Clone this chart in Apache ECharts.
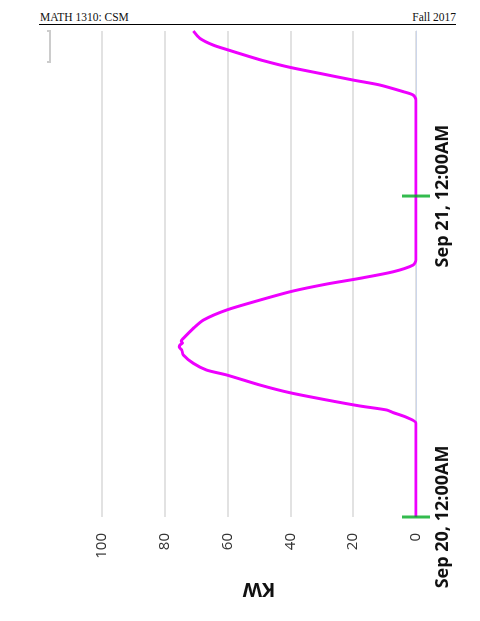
<!DOCTYPE html>
<html>
<head>
<meta charset="utf-8">
<script src="https://cdn.jsdelivr.net/npm/echarts@6/dist/echarts.min.js"></script>
<style>
    body { margin: 0; background: #fff; overflow: hidden; }
    .page-head {
        position: absolute; left: 39px; top: 10px; width: 417px; height: 14px;
        border-bottom: 1px solid #000;
        font-family: "Liberation Serif", "DejaVu Serif", serif; font-size: 11.5px; color: #111;
    }
    .page-head .l { position: absolute; left: 1px; top: 1px; }
    .page-head .r { position: absolute; right: 0; top: 1px; }
    #chart {
        position: absolute; left: 0; top: 621px;
        width: 621px; height: 480px;
        transform-origin: 0 0; transform: rotate(-90deg);
    }
</style>
</head>
<body>
<div class="page-head"><span class="l">MATH 1310: CSM</span><span class="r">Fall 2017</span></div>
<div id="chart"></div>
<script>
    // hours since Sep 20, 12:00AM
    var hours = [0, 7.0, 7.45, 7.8, 8.0, 8.3, 8.75, 9.29, 9.87, 10.62, 10.99, 11.49, 12.11, 12.49,
        12.71, 12.86, 13.0, 13.16, 13.36, 14.11, 14.73, 15.48, 16.22, 16.9, 17.42, 17.85, 18.34,
        18.84, 19.21, 24, 31.18, 31.55, 31.8, 32.3, 32.67, 33.17, 33.62, 34.12, 34.49, 34.92,
        35.29, 35.79, 36.34];
    var kw = [0, 0, 3.0, 7.2, 9.3, 17.8, 28.4, 40.1, 49.7, 60.3, 66.7, 70.9, 74.1, 74.6,
        75.4, 75.2, 74.4, 74.8, 74.1, 70.9, 67.7, 60.3, 49.7, 39.1, 28.4, 17.8, 7.2,
        0.9, 0, 0, 0, 0.9, 4.0, 11.5, 20.0, 30.6, 40.1, 48.6, 53.9, 59.8,
        64.6, 68.8, 70.9];
    var dayTicks = [0, 24];
    var dayLabels = ['Sep 20, 12:00AM', 'Sep 21, 12:00AM'];
    var kwTicks = [0, 20, 40, 60, 80, 100];

    var chart = echarts.init(document.getElementById('chart'), null, {renderer: 'canvas'});

    var lineData = [];
    for (var i = 0; i < hours.length; i++) {
        lineData.push([hours[i], kw[i]]);
    }
    var markData = [];
    for (var j = 0; j < dayTicks.length; j++) {
        markData.push([dayTicks[j], 0]);
    }

    var option = {
        animation: false,
        textStyle: { fontFamily: 'Open Sans' },
        grid: { left: 104, right: 31, top: 102, bottom: 64 },
        xAxis: {
            type: 'value',
            min: 0,
            max: 36.34,
            interval: 24,
            axisLine: { show: true, lineStyle: { color: '#ccd6eb', width: 1 } },
            axisTick: { show: false },
            splitLine: { show: false },
            axisLabel: {
                showMaxLabel: false,
                margin: 18,
                fontSize: 18,
                fontWeight: 'bold',
                color: '#111',
                formatter: function (v) {
                    var k = dayTicks.indexOf(v);
                    return k >= 0 ? dayLabels[k] : '';
                }
            }
        },
        yAxis: {
            type: 'value',
            min: kwTicks[0],
            max: kwTicks[kwTicks.length - 1],
            interval: 20,
            name: 'KW',
            nameLocation: 'middle',
            nameGap: 62,
            nameTextStyle: { fontSize: 20, fontWeight: 'bold', color: '#111' },
            axisLine: { show: false },
            axisTick: { show: false },
            axisLabel: { margin: 16, fontSize: 15, color: '#333' },
            splitLine: { lineStyle: { color: '#d9d9d9', width: 1.5 } }
        },
        graphic: [{
            type: 'polyline',
            shape: { points: [[590, 47], [590, 50], [559, 50], [559, 47]] },
            style: { stroke: '#cccccc', lineWidth: 2, fill: null }
        }],
        series: [{
            name: 'KW',
            type: 'line',
            data: lineData,
            showSymbol: false,
            smooth: 0.25,
            lineStyle: { color: '#ee00ff', width: 3 },
            itemStyle: { color: '#ee00ff' },
            z: 2
        }, {
            type: 'scatter',
            data: markData,
            symbol: 'rect',
            symbolSize: [3, 28],
            itemStyle: { color: '#00aa22' },
            z: 3
        }]
    };
    chart.setOption(option);
</script>
</body>
</html>
